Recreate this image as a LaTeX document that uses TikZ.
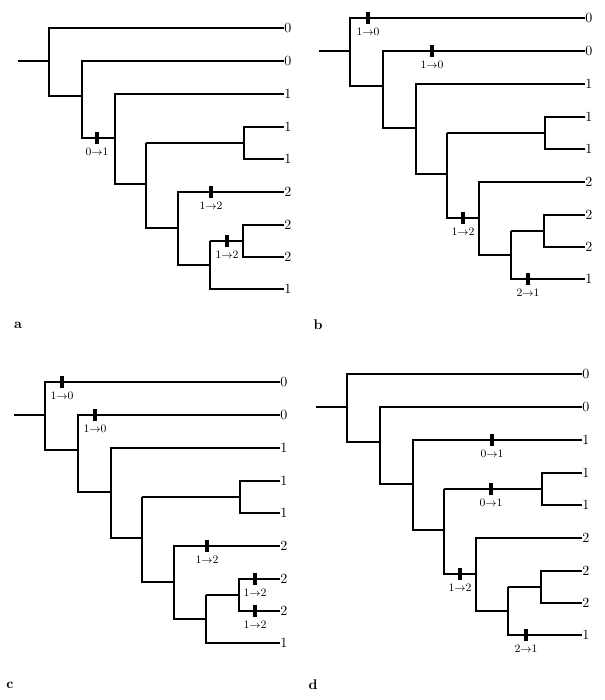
\documentclass[tikz,border=0pt]{standalone}
\begin{document}
\begin{tikzpicture}[x=0.75pt,y=-0.75pt,
  br/.style={line width=0.9pt},
  mk/.style={line width=2.6pt},
  ml/.style={font=\fontsize{8.5}{9}\selectfont,inner sep=0pt},
  lf/.style={font=\fontsize{10.5}{11}\selectfont,anchor=west,inner sep=0pt},
  pl/.style={font=\bfseries\fontsize{10.5}{11}\selectfont,inner sep=0pt}]
\useasboundingbox (0,0) rectangle (604,700);
\newcommand{\tree}[9]{%
  \coordinate (r) at (18,61);
  \foreach \yy/\lab [count=\i] in {28/#1,61/#2,94/#3,127/#4,159/#5,192/#6,225/#7,257/#8,289/#9}{
    \node[lf] (t\i) at (284,\yy) {\lab};}
  \draw[br] (r) -- (49,61);
  \draw[br] (t1.west) -- (49,28) -- (49,96) -- (82,96);
  \draw[br] (t2.west) -- (82,61) -- (82,138) -- (115,138);
  \draw[br] (t3.west) -- (115,94) -- (115,184) -- (146,184);
  \draw[br] (146,143) -- (146,228) -- (178,228);
  \draw[br] (146,143) -- (244,143);
  \draw[br] (t4.west) -- (244,127) -- (244,159) -- (t5.west);
  \draw[br] (t6.west) -- (178,192) -- (178,265) -- (210,265);
  \draw[br] (210,241) -- (210,289) -- (t9.west);
  \draw[br] (210,241) -- (243,241);
  \draw[br] (t7.west) -- (243,225) -- (243,257) -- (t8.west);
}
\newcommand{\mut}[3]{\draw[mk] (#1,#2-6) -- (#1,#2+6); \node[ml] at (#1,#2+14) {#3};}
% a
\begin{scope}
\tree{0}{0}{1}{1}{1}{2}{2}{2}{1}
\mut{97}{138}{0$\rightarrow$1}
\mut{211}{192}{1$\rightarrow$2}
\mut{227}{241}{1$\rightarrow$2}
\end{scope}
\node[pl] (la) at (18,325) {a};
% b
\begin{scope}[shift={(301,-10)}]
\tree{0}{0}{1}{1}{1}{2}{2}{2}{1}
\mut{67}{28}{1$\rightarrow$0}
\mut{131}{61}{1$\rightarrow$0}
\mut{162}{228}{1$\rightarrow$2}
\mut{227}{289}{2$\rightarrow$1}
\end{scope}
\node[pl] (lb) at (318,325) {b};
% c
\begin{scope}[shift={(-4,354)}]
\tree{0}{0}{1}{1}{1}{2}{2}{2}{1}
\mut{66}{28}{1$\rightarrow$0}
\mut{99}{61}{1$\rightarrow$0}
\mut{211}{192}{1$\rightarrow$2}
\mut{259}{225}{1$\rightarrow$2}
\mut{259}{257}{1$\rightarrow$2}
\end{scope}
\node[pl] (lc) at (10,685) {c};
% d
\begin{scope}[shift={(298,346)}]
\tree{0}{0}{1}{1}{1}{2}{2}{2}{1}
\mut{194}{94}{0$\rightarrow$1}
\mut{193}{143}{0$\rightarrow$1}
\mut{162}{228}{1$\rightarrow$2}
\mut{228}{289}{2$\rightarrow$1}
\end{scope}
\node[pl] (ld) at (313,685) {d};
\end{tikzpicture}
\end{document}
